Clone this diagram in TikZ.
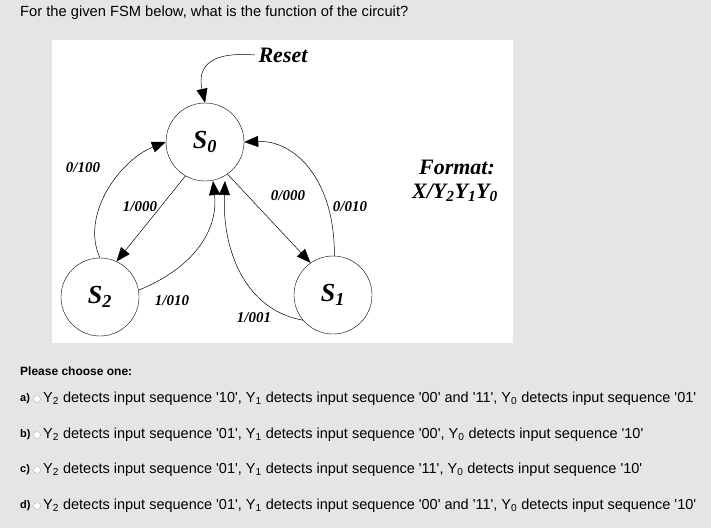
\documentclass[tikz,border=0pt]{standalone}
\usepackage{fontspec}
\setmainfont{Liberation Sans}
\newfontfamily\tnr{Liberation Serif}
\usetikzlibrary{arrows.meta}
\definecolor{bgc}{RGB}{228,229,228}
\newcommand{\qq}{\textquotesingle}
\begin{document}
\begin{tikzpicture}[x=1pt,y=-1pt,
  st/.style={draw,circle,minimum size=78pt,inner sep=0pt,font=\tnr\bfseries\itshape\fontsize{26}{26}\selectfont},
  lab/.style={font=\tnr\bfseries\itshape\fontsize{15}{15}\selectfont},
  tr/.style={-{Triangle[length=14pt,width=11pt]},line width=0.5pt},
  opt/.style={anchor=west,font=\fontsize{14.5}{15}\selectfont}]
\fill[bgc] (0,0) rectangle (711,528);
\useasboundingbox (0,0) rectangle (711,528);
\fill[white] (52,40) rectangle (513,343);
\node[anchor=west,font=\fontsize{14.7}{15}\selectfont,inner sep=0pt] (title) at (20,13) {For the given FSM below, what is the function of the circuit?};
\node[st] (s0) at (205,142) {S\textsubscript{0}};
\node[st] (s2) at (100,297) {S\textsubscript{2}};
\node[st] (s1) at (333,295) {S\textsubscript{1}};
\node[font=\tnr\bfseries\itshape\fontsize{22}{22}\selectfont] (reset) at (283,55) {Reset};
\draw[tr] (reset.west) .. controls (195,50) and (200,80) .. (s0.north);
\draw[tr] (s2.north) .. controls (80,215) and (120,160) .. (s0.west);
\draw[tr] (s0.240) -- (s2.65);
\draw[tr] (s2.10) .. controls (200,265) and (218,225) .. (213,181);
\draw[tr] (s0.305) -- (s1.125);
\draw[tr] (s1.88) .. controls (335,180) and (295,140) .. (s0.east);
\draw[tr] (s1.220) .. controls (245,310) and (222,250) .. (225,181);
\node[lab] (l1) at (83,168) {0/100};
\node[lab] (l2) at (140,207) {1/000};
\node[lab] (l3) at (288,196) {0/000};
\node[lab] (l4) at (350,207) {0/010};
\node[lab] (l5) at (172,301) {1/010};
\node[lab] (l6) at (254,318) {1/001};
\node[font=\tnr\bfseries\itshape\fontsize{22}{22}\selectfont] (fmt) at (457,167) {Format:};
\node[font=\tnr\bfseries\itshape\fontsize{22}{22}\selectfont] (fmt2) at (455,193) {X/Y\textsubscript{2}Y\textsubscript{1}Y\textsubscript{0}};
\node[anchor=west,font=\bfseries\fontsize{12}{12}\selectfont,inner sep=0pt] (pc) at (20,371) {Please choose one:};
\foreach \l/\y/\t in {
 a/399/{Y\textsubscript{2} detects input sequence \qq10\qq, Y\textsubscript{1} detects input sequence \qq00\qq{} and \qq11\qq, Y\textsubscript{0} detects input sequence \qq01\qq},
 b/435/{Y\textsubscript{2} detects input sequence \qq01\qq, Y\textsubscript{1} detects input sequence \qq00\qq, Y\textsubscript{0} detects input sequence \qq10\qq},
 c/470/{Y\textsubscript{2} detects input sequence \qq01\qq, Y\textsubscript{1} detects input sequence \qq11\qq, Y\textsubscript{0} detects input sequence \qq10\qq},
 d/506/{Y\textsubscript{2} detects input sequence \qq01\qq, Y\textsubscript{1} detects input sequence \qq00\qq{} and \qq11\qq, Y\textsubscript{0} detects input sequence \qq10\qq}}{
 \node[anchor=west,font=\bfseries\fontsize{11}{11}\selectfont,inner sep=0pt] (k\l) at (20,\y) {\l)};
 \draw[gray!60,fill=white] (37,\y) circle (3.5);
 \node[opt,inner sep=0pt] (o\l) at (43,\y) {\t};
}
\end{tikzpicture}
\end{document}
